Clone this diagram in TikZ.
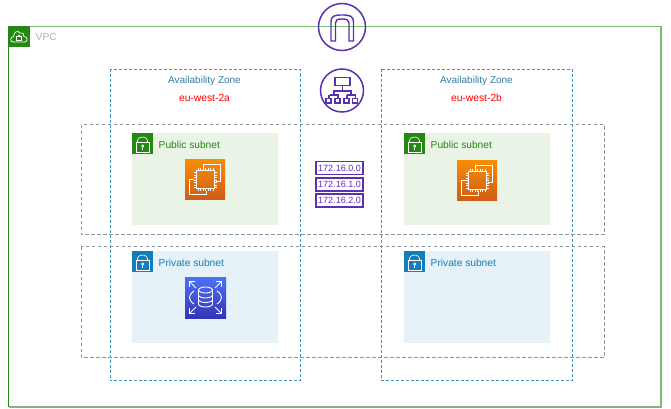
\documentclass[tikz,border=0pt]{standalone}
\usepackage{fontspec}
\setmainfont{Liberation Sans}
\usetikzlibrary{calc}
\definecolor{vpcgreen}{HTML}{248814}
\definecolor{vpcline}{HTML}{7FB873}
\definecolor{azblue}{HTML}{147EBA}
\definecolor{azline}{HTML}{3F93C4}
\definecolor{bandgray}{HTML}{8A95A2}
\definecolor{pubfill}{HTML}{E9F3E6}
\definecolor{prifill}{HTML}{E6F2F8}
\definecolor{purp}{HTML}{5A30B5}
\definecolor{vpctext}{HTML}{AAB7B8}
\definecolor{orgtop}{HTML}{F78E04}
\definecolor{orgbot}{HTML}{D05C17}
\definecolor{blutop}{HTML}{4D72F3}
\definecolor{blubot}{HTML}{3334B9}
\tikzset{
  x=1pt,y=-1pt,
  az/.style={draw=azline,dash pattern=on 3pt off 2pt,line width=.9pt},
  band/.style={draw=bandgray,dash pattern=on 3.5pt off 2.5pt,line width=.9pt},
  subnetpub/.style={fill=pubfill,draw=none},
  subnetpri/.style={fill=prifill,draw=none},
  lbl/.style={font=\fontsize{10.2}{12}\selectfont,inner sep=0pt,anchor=west},
  azlbl/.style={font=\fontsize{10}{12}\selectfont,inner sep=0pt,text=azline!85!black},
  redlbl/.style={font=\fontsize{10.3}{12}\selectfont,inner sep=0pt,text=red},
  ipbox/.style={draw=purp,line width=1.6pt,fill=white,minimum width=47.5pt,minimum height=13pt,inner sep=0pt,text=purp,font=\fontsize{9}{10}\selectfont},
  icoline/.style={draw=white,line width=.9pt,fill=none},
  purpline/.style={draw=purp,line width=1.4pt,fill=none},
}
% padlock badge at top-left corner (x,y), square 21
\newcommand{\lockbadge}[3]{%
  \fill[#3] (#1,#2) rectangle ++(21,21);
  \begin{scope}[shift={(#1,#2)}]
    \draw[icoline,line width=.6pt] (4.5,9) rectangle (17,19);
    \draw[icoline,line width=.6pt] (5.5,9) -- (5.5,7.5) arc[start angle=180,end angle=0,x radius=5,y radius=-3.5] -- (15.5,9);
    \draw[icoline,line width=.6pt] (10.7,13) circle[radius=1.2];
    \draw[icoline,line width=.6pt] (10.7,14.2) -- (10.7,16.5);
  \end{scope}}
% EC2 icon: top-left (x,y), size 40
\newcommand{\ectwo}[2]{%
  \begin{scope}[shift={(#1,#2)}]
    \shade[top color=orgtop,bottom color=orgbot] (0,0) rectangle (40,40);
    \draw[icoline] (18,9) -- (18,5) -- (35,5) -- (35,22) -- (31,22);
    \draw[icoline] (9,20) -- (4.5,20) -- (4.5,35) -- (21,35) -- (21,31);
    \draw[icoline,line width=1pt] (11,11) rectangle (29,29);
    \foreach \t in {13,15.5,18,20.5,23,25.5,28}{
      \draw[white,line width=.7pt] (\t,8.5) -- (\t,11);
      \draw[white,line width=.7pt] (\t,29) -- (\t,31.5);
      \draw[white,line width=.7pt] (8.5,\t) -- (11,\t);
      \draw[white,line width=.7pt] (29,\t) -- (31.5,\t);
    }
  \end{scope}}
\begin{document}
\begin{tikzpicture}
\useasboundingbox (0,0) rectangle (671,409);
\fill[white] (0,0) rectangle (671,409);
% VPC
\node[draw=none,inner sep=0pt,minimum width=652pt,minimum height=380pt,anchor=north west] (vpc) at (8.5,26.5) {};
\draw[vpcline,line width=1.2pt] (vpc.north west) -- (vpc.north east) -- (vpc.south east) -- (vpc.south west);
\draw[vpcgreen,line width=1.1pt] (vpc.south west) -- (vpc.north west);
\fill[vpcgreen] (8,26) rectangle (30,47);
\begin{scope}[shift={(8,26)}]
  \draw[white,line width=.7pt] (5,16) .. controls (2,16) and (2,10.5) .. (5.5,10.5) .. controls (6,5.5) and (10,4) .. (12,7) .. controls (14,5.5) and (16.5,8) .. (16,10.5) .. controls (20,10.5) and (20,16) .. (17,16) -- cycle;
  \draw[white,line width=.6pt] (8.7,10.5) rectangle (13.3,14);
  \draw[white,line width=.6pt] (9.7,10.5) arc[start angle=180,end angle=0,x radius=1.3,y radius=-1.5];
\end{scope}
\node[lbl,text=vpctext] (vpclabel) at (35.5,37) {VPC};
% Subnets
\node[subnetpub,minimum width=146pt,minimum height=92pt,anchor=north west,inner sep=0pt] (puba) at (132,133) {};
\node[subnetpub,minimum width=146pt,minimum height=92pt,anchor=north west,inner sep=0pt] (pubb) at (404,133) {};
\node[subnetpri,minimum width=146pt,minimum height=92pt,anchor=north west,inner sep=0pt] (pria) at (132,251) {};
\node[subnetpri,minimum width=146pt,minimum height=92pt,anchor=north west,inner sep=0pt] (prib) at (404,251) {};
% Zones
\draw[az] (110,69.5) rectangle (300,380.5);
\draw[az] (381.5,69.5) rectangle (572,380.5);
% Bands
\draw[band] (81,124.5) rectangle (604,234.5);
\draw[band] (81,246.5) rectangle (604,357.5);
% Zone labels
\node[azlbl] (aza) at (204.5,81) {Availability Zone};
\node[redlbl] (azared) at (204.5,98) {eu-west-2a};
\node[azlbl] (azb) at (476.5,81) {Availability Zone};
\node[redlbl] (azbred) at (476.5,98) {eu-west-2b};
% Badges and labels
\lockbadge{132}{133}{vpcgreen}
\lockbadge{404}{133}{vpcgreen}
\lockbadge{132}{251}{azblue}
\lockbadge{404}{251}{azblue}
\node[lbl,text=vpcgreen] (lpuba) at (158.5,145) {Public subnet};
\node[lbl,text=vpcgreen] (lpubb) at (430.5,145) {Public subnet};
\node[lbl,text=azblue] (lpria) at (158.5,263) {Private subnet};
\node[lbl,text=azblue] (lprib) at (430.5,263) {Private subnet};
% EC2
\ectwo{185}{159.5}
\ectwo{457}{160}
% RDS
\begin{scope}[shift={(185,277)}]
  \shade[top color=blutop,bottom color=blubot] (0,0) rectangle (41,41);
  \draw[icoline] (13.5,13) -- (13.5,27);
  \draw[icoline] (27.5,13) -- (27.5,27);
  \draw[icoline] (20.5,13) ellipse[x radius=7,y radius=3];
  \draw[icoline] (13.5,18) arc[start angle=180,end angle=360,x radius=7,y radius=-3];
  \draw[icoline] (13.5,22.5) arc[start angle=180,end angle=360,x radius=7,y radius=-3];
  \draw[icoline] (13.5,27) arc[start angle=180,end angle=360,x radius=7,y radius=-3];
  \draw[icoline] (4.5,4.5) -- (11,11); \draw[icoline] (4.5,10) -- (4.5,4.5) -- (10,4.5);
  \draw[icoline] (36.5,4.5) -- (30,11); \draw[icoline] (31,4.5) -- (36.5,4.5) -- (36.5,10);
  \draw[icoline] (4.5,36.5) -- (11,30); \draw[icoline] (4.5,31) -- (4.5,36.5) -- (10,36.5);
  \draw[icoline] (36.5,36.5) -- (30,30); \draw[icoline] (31,36.5) -- (36.5,36.5) -- (36.5,31);
  \draw[icoline] (9,14) .. controls (3,18) and (3,23) .. (9,27);
  \draw[icoline] (32,14) .. controls (38,18) and (38,23) .. (32,27);
\end{scope}
% Internet gateway
\node[circle,draw=purp,line width=1.5pt,fill=none,minimum size=47pt,inner sep=0pt] (igw) at (342,27) {};
\draw[purpline] (331,41) -- (331,22) .. controls (331,16) and (334,15) .. (342,15) .. controls (350,15) and (353.5,16) .. (353.5,22) -- (353.5,41) -- (349,41) -- (349,23) .. controls (349,20) and (347,19) .. (342,19) .. controls (337,19) and (335.5,20) .. (335.5,23) -- (335.5,41) -- cycle;
% Router / VPC router
\node[circle,draw=purp,line width=1.5pt,fill=none,minimum size=43pt,inner sep=0pt] (rtr) at (342,90.5) {};
\draw[purpline] (335,77.5) rectangle (350,85.5);
\draw[purpline] (342.5,85.5) -- (342.5,91);
\draw[purpline] (334,95) -- (334,91) -- (351,91) -- (351,95);
\draw[purpline] (329.5,95) -- (338.5,95);
\draw[purpline] (346.5,95) -- (355.5,95);
\draw[purpline] (329,98.5) -- (329,95);
\draw[purpline] (338,98.5) -- (338,95);
\draw[purpline] (347,98.5) -- (347,95);
\draw[purpline] (355.5,98.5) -- (355.5,95);
\foreach \bx in {326,335,344,352.5}{\draw[purpline] (\bx,98.5) rectangle ++(5,4.5);}
% IP boxes
\node[ipbox] (ipa) at (339.5,168) {172.16.0.0};
\node[ipbox] (ipb) at (339.5,184.5) {172.16.1.0};
\node[ipbox] (ipc) at (339.5,200.5) {172.16.2.0};
\end{tikzpicture}
\end{document}
